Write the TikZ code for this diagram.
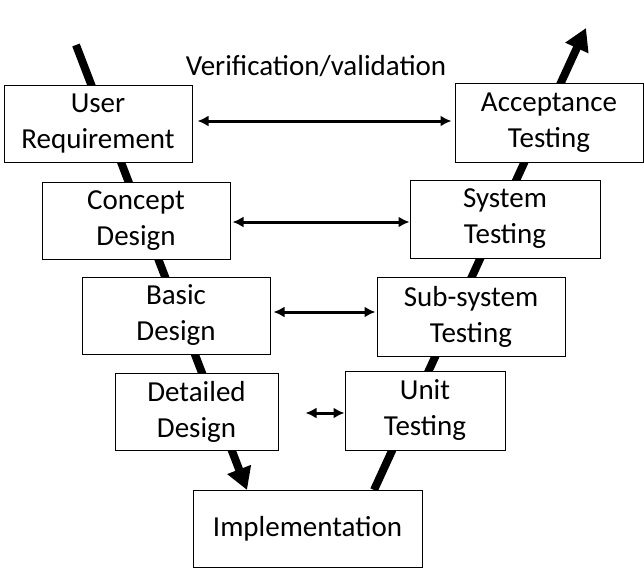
\documentclass[tikz,border=0pt]{standalone}
\usepackage{fontspec}
\setmainfont{Carlito}
\usetikzlibrary{arrows.meta}
\begin{document}
\begin{tikzpicture}[x=1pt,y=-1pt,
  box/.style={draw,line width=1pt,fill=white,align=center,inner sep=0pt,font=\fontsize{29}{36}\selectfont},
  dbl/.style={line width=3pt,{Latex[length=11pt,width=11pt]}-{Latex[length=11pt,width=11pt]}},
  flow/.style={line width=8pt,-{Triangle[length=22pt,width=24pt]}}]
\useasboundingbox (0,0) rectangle (644,570);
\coordinate (s) at (76,45);
\coordinate (e1) at (247,490);
\coordinate (s2) at (374,490);
\coordinate (e2) at (586,28);
\draw[flow] (s) -- (e1);
\draw[flow] (s2) -- (e2);
\node[box,minimum width=188pt,minimum height=77pt] (ur) at (98,123.5) {User\\Requirement};
\node[box,minimum width=188pt,minimum height=79pt] (at) at (549,122.5) {Acceptance\\Testing};
\node[box,minimum width=188pt,minimum height=77pt] (cd) at (136,220.5) {Concept\\Design};
\node[box,minimum width=190pt,minimum height=78pt] (st) at (505,219) {System\\Testing};
\node[box,minimum width=188pt,minimum height=77pt] (bd) at (176,315.5) {Basic\\Design};
\node[box,minimum width=188pt,minimum height=79pt] (sst) at (471,316.5) {Sub-system\\Testing};
\node[box,minimum width=163pt,minimum height=77pt] (dd) at (196.5,411.5) {Detailed\\Design};
\node[box,minimum width=160pt,minimum height=79pt] (ut) at (425,410.5) {Unit\\Testing};
\node[box,minimum width=229pt,minimum height=77pt] (im) at (307.5,528.5) {Implementation};
\node[font=\fontsize{29}{36}\selectfont] (vv) at (316,66) {Verification/validation};
\draw[dbl] ([xshift=5pt,yshift=2.5pt]ur.east) -- ([xshift=-3pt,yshift=2.5pt]ur.east -| at.west);
\draw[dbl] ([xshift=2pt,yshift=-1.5pt]cd.east) -- ([yshift=-1.5pt]cd.east -| st.west);
\draw[dbl] ([xshift=3pt,yshift=3.5pt]bd.east) -- ([xshift=-1pt,yshift=3.5pt]bd.east -| sst.west);
\draw[dbl] ([xshift=27pt,yshift=-1.5pt]dd.east) -- ([yshift=-1.5pt]dd.east -| ut.west);
\end{tikzpicture}
\end{document}
